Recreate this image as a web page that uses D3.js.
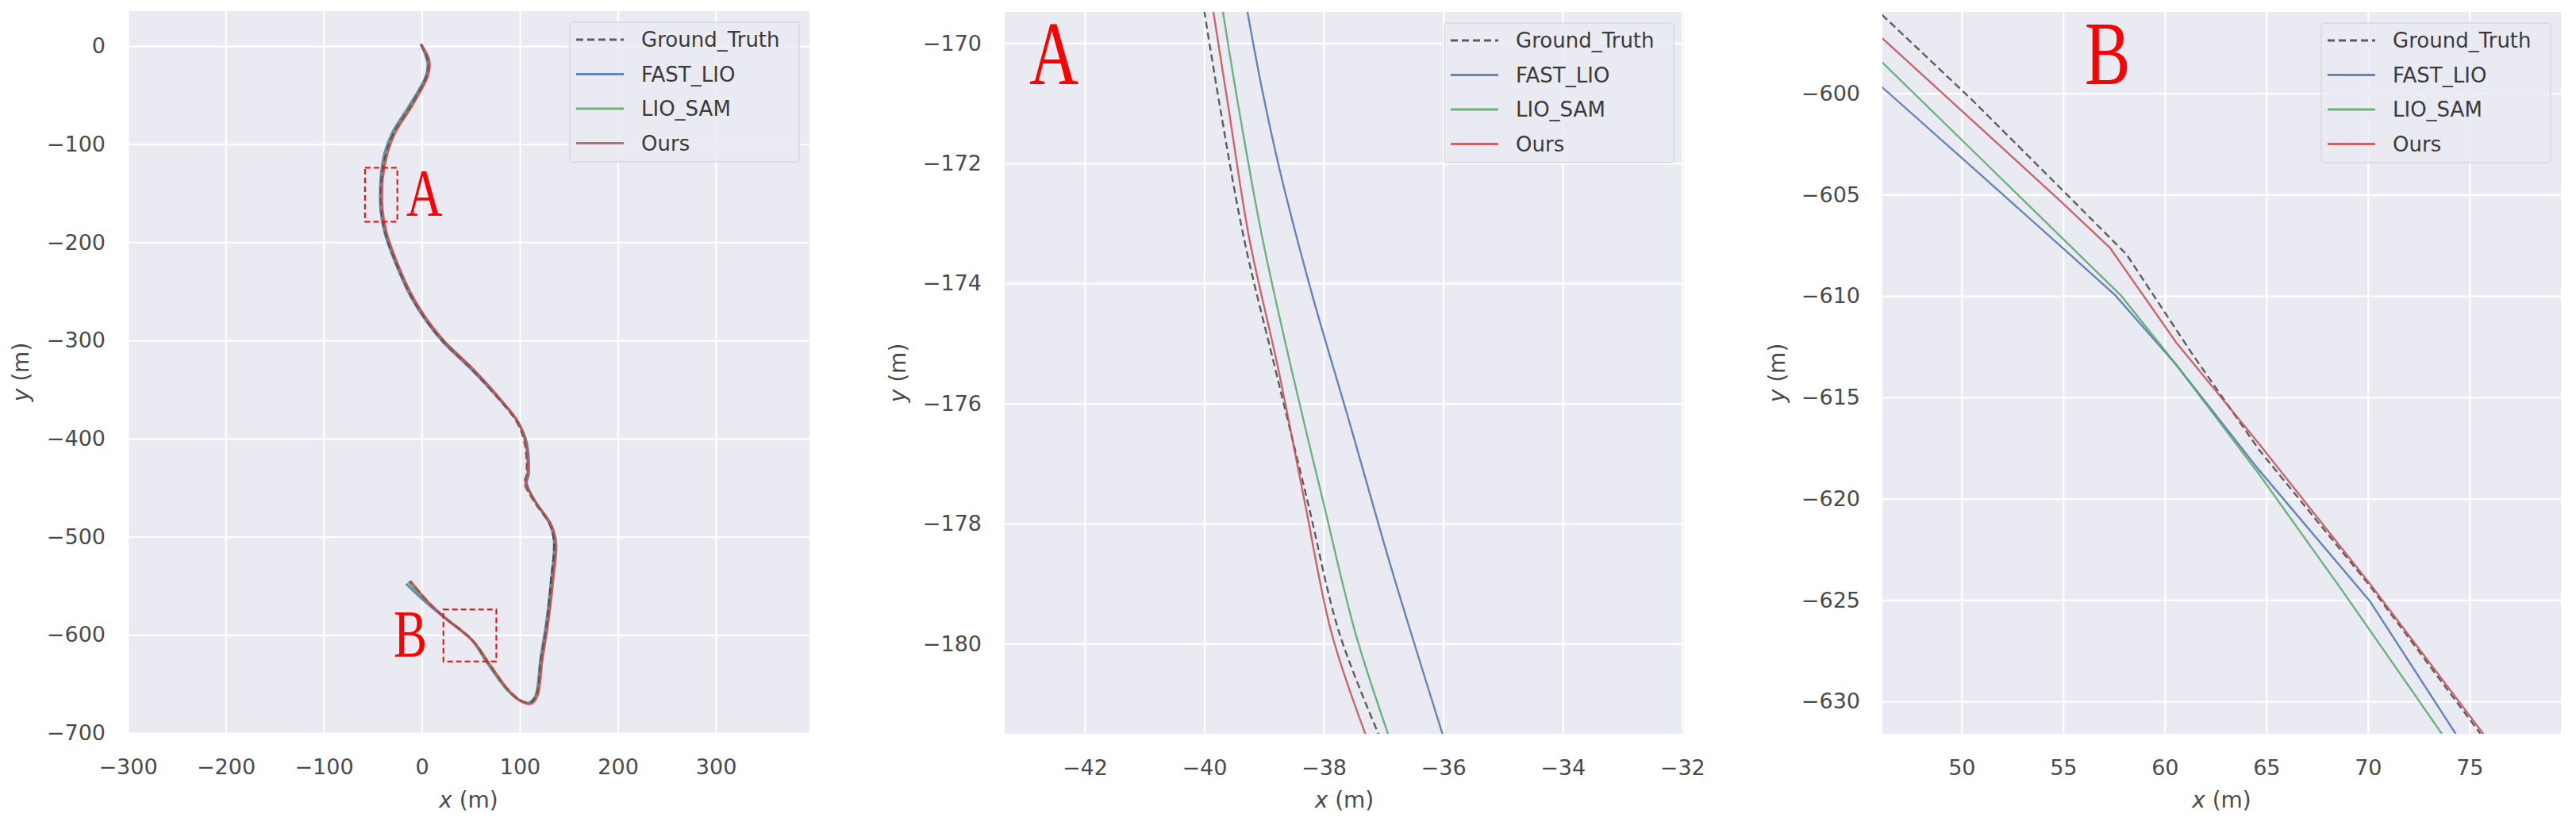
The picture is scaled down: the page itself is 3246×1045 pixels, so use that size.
<!DOCTYPE html>
<html><head><meta charset="utf-8">
<script src="https://cdn.jsdelivr.net/npm/d3@7"></script>
<style>body{margin:0;background:#fff}svg{display:block}</style>
</head><body>
<svg id="c" width="3246" height="1045"></svg>
<script>
const seriesNames = ["Ground_Truth","FAST_LIO","LIO_SAM","Ours"];
const colors = {"Ground_Truth":"#444444","FAST_LIO":"#4C72B0","LIO_SAM":"#55A868","Ours":"#C44E52"};

// Panel 1 (full trajectory) [x, y]
const full_GT = [[-1,2],[5,-10],[7,-18],[5,-31],[-11,-61],[-28,-88],[-36,-109],[-41,-136],[-41,-168],[-37,-190],[-28,-216],[-11,-254],[6,-281],[23,-302],[51,-329],[80,-361],[97,-383],[105,-404],[107,-437],[105,-445],[114,-463],[131,-488],[135,-506],[132,-544],[128,-587],[122,-625],[117,-662],[111,-669],[103,-668],[89,-657],[69,-630],[52,-606],[23,-582],[6,-566],[-12,-545]];
const full_FAST = [[-1,2],[4,-10],[6,-18],[4,-31],[-13,-61],[-30,-88],[-38,-109],[-42,-136],[-42,-168],[-38,-190],[-29,-216],[-12,-254],[5,-281],[22,-302],[50,-329],[80,-361],[98,-383],[107,-404],[109,-437],[107,-445],[115,-463],[131,-488],[135,-506],[132,-544],[127,-587],[121,-625],[116,-662],[110,-669],[102,-668],[88,-657],[67,-629],[50,-604],[20,-580],[2,-565],[-16,-548]];
const full_LIO = [[-1,2],[5,-10],[7,-18],[5,-31],[-12,-61],[-29,-88],[-37,-109],[-41,-136],[-41,-168],[-37,-190],[-28,-216],[-11,-254],[6,-281],[24,-302],[52,-329],[81,-361],[98,-383],[106,-404],[108,-437],[106,-445],[115,-463],[132,-488],[136,-506],[133,-544],[128,-587],[122,-625],[116,-662],[110,-669],[102,-668],[88,-657],[68,-630],[51,-605],[22,-581],[4,-565],[-14,-546]];
const full_Ours = [[-1,2],[6,-10],[8,-18],[6,-31],[-10,-61],[-27,-88],[-35,-109],[-40,-136],[-40,-168],[-36,-190],[-27,-216],[-10,-254],[7,-281],[24,-302],[52,-329],[81,-361],[98,-383],[106,-404],[108,-437],[106,-445],[115,-463],[132,-488],[137,-506],[134,-544],[129,-587],[123,-625],[118,-662],[112,-670],[104,-669],[90,-658],[70,-631],[53,-607],[24,-583],[7,-567],[-11,-546]];

// Panel A (zoom) [x, y]
const a_GT = [[-40.0,-169.46],[-39.74,-171.04],[-39.34,-173.23],[-38.81,-175.43],[-38.27,-177.63],[-37.74,-179.82],[-37.08,-181.51]];
const a_FAST = [[-39.28,-169.46],[-39.03,-170.78],[-38.72,-172.18],[-38.19,-174.2],[-37.57,-176.31],[-36.86,-178.77],[-36.01,-181.51]];
const a_LIO = [[-39.69,-169.46],[-39.43,-171.04],[-39.03,-173.23],[-38.54,-175.43],[-38.01,-177.63],[-37.47,-179.82],[-36.92,-181.51]];
const a_Ours = [[-39.85,-169.46],[-39.60,-171.04],[-39.25,-173.23],[-38.76,-175.43],[-38.32,-177.63],[-37.87,-179.82],[-37.30,-181.51]];

// Panel B (zoom) [x, y]
const b_GT = [[46.08,-596.12],[50.49,-600.3],[55.39,-605.2],[58.12,-607.95],[61.38,-612.9],[64.65,-617.6],[70.1,-624.3],[75.54,-631.6]];
const b_FAST = [[46.08,-599.69],[51.03,-604.1],[55.39,-608.0],[57.57,-609.97],[60.57,-613.4],[64.65,-618.6],[70.1,-625.06],[74.32,-631.6]];
const b_LIO = [[46.08,-598.46],[51.03,-603.3],[55.93,-608.1],[57.84,-609.97],[60.57,-613.4],[64.65,-618.8],[68.74,-624.54],[73.64,-631.6]];
const b_Ours = [[46.08,-597.27],[51.03,-601.8],[54.85,-605.3],[57.30,-607.62],[60.57,-612.3],[64.65,-617.3],[70.1,-624.2],[75.68,-631.6]];

const fullTicksX = [-300,-200,-100,0,100,200,300];
const fullTicksY = [0,-100,-200,-300,-400,-500,-600,-700];
const aTicksX = [-42,-40,-38,-36,-34,-32];
const aTicksY = [-170,-172,-174,-176,-178,-180];
const bTicksX = [50,55,60,65,70,75];
const bTicksY = [-600,-605,-610,-615,-620,-625,-630];

const svg = d3.select("#c");
const FONT = "DejaVu Sans, sans-serif";

function panel(cfg){
  const {L,R,T,B,xd,yd,tx,ty,series,lw,ylabX,tickR,curve} = cfg;
  const x = d3.scaleLinear().domain(xd).range([L,R]);
  const y = d3.scaleLinear().domain(yd).range([B,T]);
  const g = svg.append("g");
  const cid = "clip"+Math.round(L);
  svg.append("clipPath").attr("id",cid).append("rect").attr("x",L).attr("y",T).attr("width",R-L).attr("height",B-T);
  g.append("rect").attr("x",L).attr("y",T).attr("width",R-L).attr("height",B-T).attr("fill","#EAEAF2");
  const gx = g.append("g").attr("transform",`translate(0,${B})`)
    .call(d3.axisBottom(x).tickValues(tx).tickSize(-(B-T)).tickPadding(30).tickFormat(d=>d3.format("d")(d).replace("-","\u2212")));
  const gy = g.append("g").attr("transform",`translate(${L},0)`)
    .call(d3.axisLeft(y).tickValues(ty).tickSize(-(R-L)).tickPadding(L-tickR).tickFormat(d=>d3.format("d")(d).replace("-","\u2212")));
  [gx,gy].forEach(a=>{
    a.select(".domain").remove();
    a.selectAll(".tick line").attr("stroke","#fff").attr("stroke-width",2.2);
    a.selectAll(".tick text").attr("fill","#4a4a4a").attr("font-size",27).attr("font-family",FONT);
  });
  gx.selectAll(".tick text").attr("dy","0.35em").attr("y",43);
  const line = d3.line().x(d=>x(d[0])).y(d=>y(d[1])).curve(curve);
  const lg = g.append("g").attr("clip-path",`url(#${cid})`);
  const order = ["FAST_LIO","LIO_SAM","Ground_Truth","Ours"];
  order.forEach(n=>{
    lg.append("path").attr("d",line(series[n])).attr("fill","none")
      .attr("stroke",colors[n]).attr("stroke-width",lw).attr("stroke-opacity",0.85)
      .attr("stroke-dasharray",n==="Ground_Truth"?"9,5":null);
  });
  const xl = g.append("text").attr("x",(L+R)/2).attr("y",1018).attr("text-anchor","middle")
    .attr("font-size",28).attr("font-family",FONT).attr("fill","#4a4a4a");
  xl.append("tspan").attr("font-style","italic").text("x");
  xl.append("tspan").text(" (m)");
  const yl = g.append("text").attr("transform",`translate(${ylabX},${(T+B)/2}) rotate(-90)`).attr("text-anchor","middle")
    .attr("font-size",28).attr("font-family",FONT).attr("fill","#4a4a4a");
  yl.append("tspan").attr("font-style","italic").text("y");
  yl.append("tspan").text(" (m)");
  const lx = R-302, ly = T+14;
  const leg = g.append("g");
  leg.append("rect").attr("x",lx).attr("y",ly).attr("width",289).attr("height",176).attr("rx",4)
    .attr("fill","#EAEAF2").attr("fill-opacity",0.85).attr("stroke","#d8d8de").attr("stroke-width",1.5);
  seriesNames.forEach((n,i)=>{
    const yy = ly+22+i*43.5;
    leg.append("line").attr("x1",lx+8).attr("x2",lx+68).attr("y1",yy).attr("y2",yy)
      .attr("stroke",colors[n]).attr("stroke-width",3).attr("stroke-opacity",0.85)
      .attr("stroke-dasharray",n==="Ground_Truth"?"9,5":null);
    leg.append("text").attr("x",lx+90).attr("y",yy).attr("dy","0.35em").attr("font-size",26)
      .attr("font-family",FONT).attr("fill","#3a3a3a").text(n);
  });
  return {x,y,g};
}

function bigLetter(t,xp,yp,fs){
  svg.append("text").attr("transform",`translate(${xp},${yp}) scale(1.05,1.4)`)
    .attr("font-family","Liberation Serif, Times New Roman, serif").attr("font-size",fs)
    .attr("fill","#ff0000").text(t);
}

const p1 = panel({L:161,R:1020,T:14,B:924,xd:[-300,395.5],yd:[-700,35.6],tx:fullTicksX,ty:fullTicksY,
  series:{"Ground_Truth":full_GT,"FAST_LIO":full_FAST,"LIO_SAM":full_LIO,"Ours":full_Ours},lw:3,ylabX:36,tickR:133,curve:d3.curveCatmullRom.alpha(0.5)});
const p2 = panel({L:1266,R:2122,T:15,B:925,xd:[-43.34,-31.97],yd:[-181.5,-169.48],tx:aTicksX,ty:aTicksY,
  series:{"Ground_Truth":a_GT,"FAST_LIO":a_FAST,"LIO_SAM":a_LIO,"Ours":a_Ours},lw:2.4,ylabX:1141,tickR:1237,curve:d3.curveCatmullRom.alpha(0.5)});
const p3 = panel({L:2372,R:3227,T:15,B:925,xd:[46.1,79.5],yd:[-631.6,-595.98],tx:bTicksX,ty:bTicksY,
  series:{"Ground_Truth":b_GT,"FAST_LIO":b_FAST,"LIO_SAM":b_LIO,"Ours":b_Ours},lw:2.4,ylabX:2249,tickR:2344,curve:d3.curveLinear});

const boxA = [-58,-25,-124,-179], boxB = [22,76,-574,-627];
[boxA,boxB].forEach(b=>{
  svg.append("rect").attr("x",p1.x(b[0])).attr("y",p1.y(b[2])).attr("width",p1.x(b[1])-p1.x(b[0]))
    .attr("height",p1.y(b[3])-p1.y(b[2])).attr("fill","none").attr("stroke","#ff0000")
    .attr("stroke-width",2).attr("stroke-dasharray","7,4");
});
bigLetter("A",512,272,60);
bigLetter("B",496,828,60);
bigLetter("A",1297,106,82);
bigLetter("B",2627,106,82);
</script>
</body></html>
